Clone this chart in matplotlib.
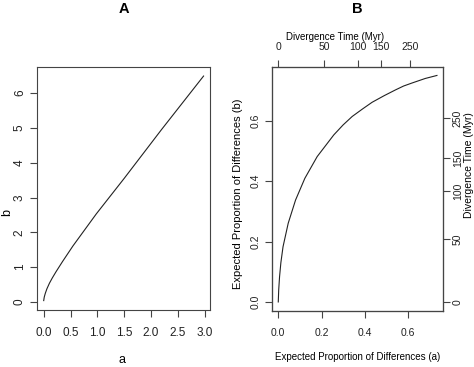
import matplotlib.pyplot as plt

# panel A: b against a
a_vals = [0.0, 0.01, 0.03, 0.06, 0.107, 0.16, 0.23, 0.35, 0.545, 0.98, 1.5, 2.2, 2.98]
b_vals = [0.04, 0.14, 0.25, 0.38, 0.54, 0.69, 0.87, 1.16, 1.61, 2.53, 3.55, 4.96, 6.49]

# panel B: expected proportion of differences (b) vs (a)
pa = [0.0, 0.002, 0.006, 0.012, 0.022, 0.046, 0.080, 0.123, 0.180, 0.257, 0.30,
      0.342, 0.39, 0.434, 0.49, 0.542, 0.58, 0.619, 0.68, 0.734]
pb = [0.0, 0.04, 0.084, 0.13, 0.183, 0.261, 0.338, 0.410, 0.482, 0.554, 0.587,
      0.615, 0.64, 0.662, 0.684, 0.703, 0.716, 0.726, 0.741, 0.751]

# divergence time ticks and where they fall on the proportion scale
time_labels = ['0', '50', '100', '150', '250']
time_pos_a = [0.0, 0.212, 0.368, 0.475, 0.610]
time_pos_b = [0.0, 0.209, 0.368, 0.477, 0.610]

W, H = 474, 367
plt.rcParams['font.family'] = ['Liberation Sans', 'DejaVu Sans']
ink = '#222222'
plt.rcParams['axes.edgecolor'] = '#444444'
plt.rcParams['xtick.color'] = '#444444'
plt.rcParams['ytick.color'] = '#444444'
plt.rcParams['xtick.labelcolor'] = ink
plt.rcParams['ytick.labelcolor'] = ink

fig = plt.figure(figsize=(W / 100, H / 100), dpi=100)

def box(l, t, r, b):
    return [l / W, 1 - b / H, (r - l) / W, (b - t) / H]

# ---- panel A
axA = fig.add_axes(box(37, 67, 210, 310))
axA.plot(a_vals, b_vals, color=ink, lw=0.8)
axA.set_xlim(-0.125, 3.1)
axA.set_ylim(-0.23, 6.75)
axA.set_xticks([0, 0.5, 1, 1.5, 2, 2.5, 3])
axA.set_xticklabels(['0.0', '0.5', '1.0', '1.5', '2.0', '2.5', '3.0'])
axA.set_yticks(range(7))
axA.tick_params(axis='x', length=5, width=0.8, pad=7, labelsize=8.5)
axA.tick_params(axis='y', length=5, width=0.8, pad=3, labelsize=8.5, labelrotation=90)
for t in axA.get_yticklabels():
    t.set_va('center')
axA.set_xlabel('a', fontsize=9)
axA.set_ylabel('b', fontsize=9, rotation=90)
axA.xaxis.set_label_coords(0.49, -0.18)
axA.yaxis.set_label_coords(-0.14, 0.4)
fig.text(124 / W, 1 - 9 / H, 'A', ha='center', va='center', fontsize=10.5, fontweight='bold')

# ---- panel B
axB = fig.add_axes(box(272, 67, 443, 311))
axB.plot(pa, pb, color=ink, lw=0.8)
axB.set_xlim(-0.029, 0.762)
axB.set_ylim(-0.03, 0.779)
axB.set_xticks([0, 0.2, 0.4, 0.6])
axB.set_xticklabels(['0.0', '0.2', '0.4', '0.6'])
axB.set_yticks([0, 0.2, 0.4, 0.6])
axB.set_yticklabels(['0.0', '0.2', '0.4', '0.6'])
axB.tick_params(axis='x', length=5, width=0.8, pad=7, labelsize=7.5)
axB.tick_params(axis='y', length=5, width=0.8, pad=3, labelsize=7.5, labelrotation=90)
for t in axB.get_yticklabels():
    t.set_va('center')
axB.set_xlabel('Expected Proportion of Differences (a)', fontsize=7)
axB.set_ylabel('Expected Proportion of Differences (b)', fontsize=8)
axB.xaxis.set_label_coords(0.5, -0.17)
axB.yaxis.set_label_coords(-0.17, 0.48)

top = axB.twiny()
top.set_xlim(axB.get_xlim())
top.set_xticks(time_pos_a)
top.set_xticklabels(time_labels)
top.tick_params(axis='x', length=5, width=0.8, pad=6, labelsize=7.5)
top.set_xlabel('Divergence Time (Myr)', fontsize=7)
top.xaxis.set_label_coords(0.37, 1.11)

right = axB.twinx()
right.set_ylim(axB.get_ylim())
right.set_yticks(time_pos_b)
right.set_yticklabels(time_labels)
right.tick_params(axis='y', length=5, width=0.8, pad=2, labelsize=7.5, labelrotation=90)
for t in right.get_yticklabels():
    t.set_va('center')
right.set_ylabel('Divergence Time (Myr)', fontsize=7.5, rotation=90)
right.yaxis.set_label_coords(1.125, 0.6)
fig.text(357 / W, 1 - 9 / H, 'B', ha='center', va='center', fontsize=10.5, fontweight='bold')

fig.savefig('out.png', dpi=100)
